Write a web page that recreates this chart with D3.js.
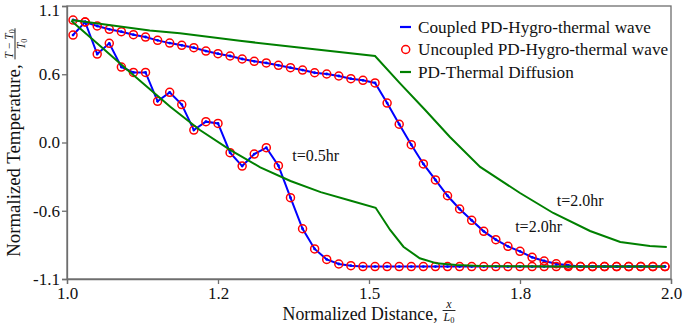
<!DOCTYPE html>
<html>
<head>
<meta charset="utf-8">
<script src="https://cdn.jsdelivr.net/npm/d3@7"></script>
<style>
  body { margin: 0; background: #fff; }
  svg { display: block; }
  text { font-family: "Liberation Serif", "DejaVu Serif", serif; fill: #111; }
</style>
</head>
<body>
<div id="chart"></div>
<script>
// ---- data ----
const xNodes = [1.01, 1.03, 1.05, 1.07, 1.09, 1.11, 1.13, 1.15, 1.17, 1.19,
                1.21, 1.23, 1.25, 1.27, 1.29, 1.31, 1.33, 1.35, 1.37, 1.39,
                1.41, 1.43, 1.45, 1.47, 1.49, 1.51, 1.53, 1.55, 1.57, 1.59,
                1.61, 1.63, 1.65, 1.67, 1.69, 1.71, 1.73, 1.75, 1.77, 1.79,
                1.81, 1.83, 1.85, 1.87, 1.89, 1.91, 1.93, 1.95, 1.97, 1.99];

// wave solution, t = 0.5 hr (coupled and uncoupled coincide)
const wave05 = [0.866, 0.971, 0.713, 0.799, 0.608, 0.565, 0.565, 0.332, 0.404, 0.306,
                0.100, 0.168, 0.154, -0.082, -0.190, -0.093, -0.042, -0.187, -0.445, -0.695,
                -0.858, -0.942, -0.979, -0.993, -1.0, -1.0, -1.0, -1.0, -1.0, -1.0,
                -1.0, -1.0, -1.0, -1.0, -1.0, -1.0, -1.0, -1.0, -1.0, -1.0,
                -1.0, -1.0, -1.0, -1.0, -1.0, -1.0, -1.0, -1.0, -1.0, -1.0];

// wave solution, t = 2.0 hr
const wave20 = [0.987, 0.971, 0.939, 0.912, 0.893, 0.869, 0.850, 0.823, 0.801, 0.783,
                0.764, 0.737, 0.716, 0.697, 0.673, 0.654, 0.641, 0.622, 0.603, 0.584,
                0.562, 0.552, 0.536, 0.514, 0.501, 0.480, 0.318, 0.147, -0.018, -0.173,
                -0.302, -0.429, -0.536, -0.627, -0.716, -0.783, -0.837, -0.877, -0.925, -0.955,
                -0.977, -0.990, -1.0, -1.0, -1.0, -1.0, -1.0, -1.0, -1.0, -1.0];

// thermal diffusion, t = 0.5 hr
const diff05X = [1.007, 1.055, 1.104, 1.171, 1.220, 1.270, 1.320, 1.370, 1.420, 1.470, 1.511,
                 1.535, 1.557, 1.584, 1.612, 1.645, 1.684, 1.816, 1.990];
const diff05Y = [0.982, 0.778, 0.568, 0.288, 0.101, -0.060, -0.200, -0.310, -0.400, -0.470, -0.526,
                 -0.705, -0.840, -0.933, -0.974, -0.987, -0.995, -1.0, -1.0];

// thermal diffusion, t = 2.0 hr
const diff20X = [1.008, 1.137, 1.187, 1.286, 1.380, 1.510, 1.551, 1.593, 1.634, 1.684,
                 1.750, 1.805, 1.866, 1.916, 1.965, 1.993];
const diff20Y = [0.987, 0.903, 0.880, 0.820, 0.767, 0.697, 0.479, 0.262, 0.044, -0.197,
                 -0.407, -0.568, -0.713, -0.802, -0.834, -0.842];

const xTickVals = [1.0, 1.25, 1.5, 1.75, 2.0];
const xTickLabels = ["1.0", "1.2", "1.5", "1.8", "2.0"];
const yTickVals = [1.1, 0.55, 0.0, -0.55, -1.1];
const yTickLabels = ["1.1", "0.6", "0.0", "-0.6", "-1.1"];

const legendLabels = ["Coupled PD-Hygro-thermal wave",
                      "Uncoupled PD-Hygro-thermal wave",
                      "PD-Thermal Diffusion"];

const notes = [
    {"label": "t=0.5hr", "x": 1.373, "y": -0.15},
    {"label": "t=2.0hr", "x": 1.742, "y": -0.72},
    {"label": "t=2.0hr", "x": 1.811, "y": -0.51}
];

/**********************
***** BASIC SETUP *****
**********************/
const width = 685, height = 329;
const margin = {top: 6, left: 67, right: 14, bottom: 50};
const plotWidth = width - margin.left - margin.right;
const plotHeight = height - margin.top - margin.bottom;

const FONT = '"Liberation Serif", "DejaVu Serif", serif';
const BLUE = "#0000ff", RED = "#ff0000", GREEN = "#008000", AXIS = "#6e6e6e";

const svg = d3.select("#chart").append("svg")
    .attr("width", width)
    .attr("height", height);

const xScale = d3.scaleLinear().domain([1.0, 2.0]).range([0, plotWidth]);
const yScale = d3.scaleLinear().domain([-1.1, 1.1]).range([plotHeight, 0]);

const plot = svg.append("g")
    .attr("transform", `translate(${margin.left}, ${margin.top})`);

/***************
***** AXES *****
***************/
plot.append("rect")
    .attr("width", plotWidth)
    .attr("height", plotHeight)
    .attr("fill", "none")
    .attr("stroke", AXIS)
    .attr("stroke-width", 1.3);

const xAxis = plot.append("g")
    .attr("transform", `translate(0, ${plotHeight})`)
    .call(d3.axisBottom(xScale)
        .tickValues(xTickVals)
        .tickFormat((d, i) => xTickLabels[i])
        .tickSize(5)
        .tickPadding(3));

const yAxis = plot.append("g")
    .call(d3.axisLeft(yScale)
        .tickValues(yTickVals)
        .tickFormat((d, i) => yTickLabels[i])
        .tickSize(5)
        .tickPadding(2));

[xAxis, yAxis].forEach(ax => {
    ax.attr("font-family", null);
    ax.select(".domain").attr("stroke", AXIS).attr("stroke-width", 1.3);
    ax.selectAll(".tick line").attr("stroke", AXIS).attr("stroke-width", 1.3);
    ax.selectAll(".tick text")
        .style("font-family", FONT)
        .style("font-size", "17px")
        .attr("fill", "#111");
});
// top label sits a little lower than its tick, as in the figure
yAxis.selectAll(".tick text").filter(d => d === 1.1).attr("dy", "0.55em");

/******************
***** CURVES ******
******************/
const line = d3.line().x(d => xScale(d[0])).y(d => yScale(d[1]));

const waves = [wave05, wave20].map(vals => xNodes.map((x, i) => [x, vals[i]]));
const diffs = [[diff05X, diff05Y], [diff20X, diff20Y]]
    .map(([xs, ys]) => xs.map((x, i) => [x, ys[i]]));

// coupled: blue line with small dots
waves.forEach(pts => {
    plot.append("path")
        .datum(pts)
        .attr("d", line)
        .attr("fill", "none")
        .attr("stroke", BLUE)
        .attr("stroke-width", 2);
    plot.append("g").selectAll("circle")
        .data(pts)
        .join("circle")
        .attr("cx", d => xScale(d[0]))
        .attr("cy", d => yScale(d[1]))
        .attr("r", 1.4)
        .attr("fill", BLUE);
});

// uncoupled: open red circles
waves.forEach(pts => {
    plot.append("g").selectAll("circle")
        .data(pts)
        .join("circle")
        .attr("cx", d => xScale(d[0]))
        .attr("cy", d => yScale(d[1]))
        .attr("r", 4)
        .attr("fill", "none")
        .attr("stroke", RED)
        .attr("stroke-width", 1.5);
});

// thermal diffusion: green
diffs.forEach(pts => {
    plot.append("path")
        .datum(pts)
        .attr("d", line)
        .attr("fill", "none")
        .attr("stroke", GREEN)
        .attr("stroke-width", 2);
});

// time labels
plot.selectAll(".note")
    .data(notes)
    .join("text")
    .attr("class", "note")
    .attr("x", d => xScale(d.x))
    .attr("y", d => yScale(d.y))
    .style("font-family", FONT)
    .style("font-size", "16px")
    .text(d => d.label);

/*****************
***** LEGEND *****
*****************/
const legend = svg.append("g").attr("transform", "translate(400, 27)");
const rowH = 22.5;
legendLabels.forEach((lab, i) => {
    const g = legend.append("g").attr("transform", `translate(0, ${i * rowH})`);
    if (i === 1) {
        g.append("circle").attr("cx", 5.7).attr("cy", 0).attr("r", 4)
            .attr("fill", "none").attr("stroke", RED).attr("stroke-width", 1.5);
    } else {
        g.append("line").attr("x1", 0).attr("x2", 11).attr("y1", 0).attr("y2", 0)
            .attr("stroke", i === 0 ? BLUE : GREEN).attr("stroke-width", 2.2);
    }
    g.append("text")
        .attr("x", 18)
        .attr("y", 0)
        .attr("dy", "0.33em")
        .style("font-family", FONT)
        .style("font-size", "17.2px")
        .text(lab);
});

/**********************
***** AXIS LABELS *****
**********************/
// builds "main text  num/den" with a fraction bar; returns the group
function fracLabel(parent, mainText, numParts, denParts, size, fsize, barY) {
    const g = parent.append("g");
    const main = g.append("text")
        .style("font-family", FONT).style("font-size", size + "px").text(mainText);
    const mw = main.node().getComputedTextLength();
    const fx = mw + 5;
    const addParts = (y, parts) => {
        const t = g.append("text").attr("x", fx).attr("y", y)
            .style("font-family", FONT).style("font-size", fsize + "px");
        parts.forEach(p => {
            const s = t.append("tspan").text(p.t);
            if (p.it) s.style("font-style", "italic");
            if (p.sub) s.attr("baseline-shift", "-25%").style("font-size", (fsize * 0.7) + "px");
        });
        return t;
    };
    const num = addParts(barY - 2.5, numParts);
    const den = addParts(barY + 0.85 * fsize, denParts);
    const nw = num.node().getComputedTextLength();
    const dw = den.node().getComputedTextLength();
    const w = Math.max(nw, dw) + 2;
    num.attr("x", fx + (w - nw) / 2);
    den.attr("x", fx + (w - dw) / 2);
    g.append("line")
        .attr("x1", fx).attr("x2", fx + w)
        .attr("y1", barY).attr("y2", barY)
        .attr("stroke", "#111").attr("stroke-width", 0.9);
    return {g: g, width: fx + w};
}

const xl = fracLabel(svg, "Normalized Distance,",
    [{t: "x", it: true}],
    [{t: "L", it: true}, {t: "0", sub: true}], 17.8, 12, -9);
xl.g.attr("transform", `translate(${margin.left + plotWidth / 2 - xl.width / 2}, 319.5)`);

const yl = fracLabel(svg, "Normalized Temperature,",
    [{t: "T", it: true}, {t: " \u2212 "}, {t: "T", it: true}, {t: "0", sub: true}],
    [{t: "T", it: true}, {t: "0", sub: true}], 18.8, 11.5, -5);
yl.g.attr("transform",
    `translate(20, ${margin.top + plotHeight / 2 + yl.width / 2}) rotate(-90)`);
</script>
</body>
</html>
